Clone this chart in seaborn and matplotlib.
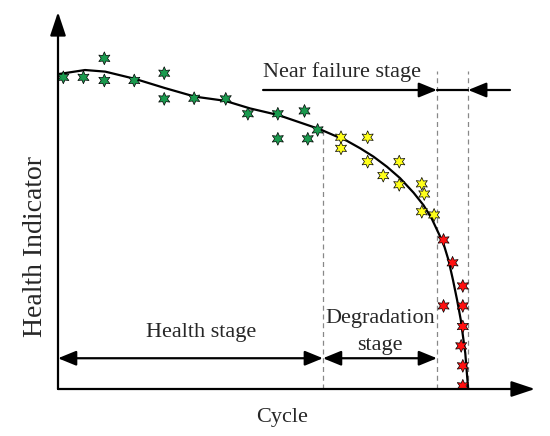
import numpy as np
import pandas as pd
import matplotlib.pyplot as plt
import seaborn as sns

# fitted health indicator curve
curve_cycle = [0, 6.6, 11.5, 18.8, 26.1, 33.4, 40.7, 46.8, 53.7, 63.9, 67.1, 70.4,
               73.7, 76.9, 80.2, 83.4, 86.7, 89.1, 91.1, 92.8, 94.0, 95.2, 96.3,
               97.3, 98.2, 99.3, 100]
curve_hi = [99.3, 100.6, 100.1, 97.8, 94.9, 92.2, 90.9, 88.5, 86.4, 81.9, 80.1, 78.3,
            75.9, 73.3, 70.1, 66.5, 61.9, 58.0, 53.8, 49.1, 45.8, 40.7, 34.4,
            28.1, 21.8, 11.3, 0]

# measured points per stage
health_cycle = [1.3, 6.2, 11.3, 11.3, 18.6, 25.9, 25.9, 33.2, 40.9, 46.3, 53.6, 53.6,
                60.1, 60.9, 63.3]
health_hi = [98.3, 98.3, 104.3, 97.3, 97.3, 99.6, 91.5, 91.7, 91.5, 86.8, 86.8, 78.9,
             87.7, 78.9, 81.7]

degr_cycle = [69.0, 69.0, 75.5, 75.5, 83.2, 79.3, 83.2, 88.7, 89.3, 88.7, 91.7]
degr_hi = [79.4, 75.9, 79.4, 71.7, 71.7, 67.3, 64.4, 64.7, 61.5, 55.9, 54.9]

fail_cycle = [94.0, 96.2, 98.7, 94.0, 98.7, 98.7, 98.3, 98.7, 98.7]
fail_hi = [47.0, 39.8, 32.5, 26.2, 26.2, 19.7, 13.6, 7.3, 1.0]

# stage boundaries
health_end = 64.6
degr_end = 92.4
fail_end = 100

stage_colors = {"health": "#1a9a4e", "degradation": "#ffff1a", "failure": "#ff1010"}

points = pd.DataFrame({
    "cycle": health_cycle + degr_cycle + fail_cycle,
    "hi": health_hi + degr_hi + fail_hi,
    "stage": ["health"] * len(health_cycle) + ["degradation"] * len(degr_cycle)
             + ["failure"] * len(fail_cycle),
})
curve = pd.DataFrame({"cycle": curve_cycle, "hi": curve_hi})

sns.set_style("white")
plt.rcParams["font.family"] = ["Liberation Serif", "DejaVu Serif"]

fig = plt.figure(figsize=(5.5, 4.36), dpi=100)
ax = fig.add_axes([58 / 550, 47 / 436, 477 / 550, 377 / 436])

ax.vlines([health_end], 0, 81.7, colors="#888888", linestyles=(0, (4, 3)), lw=0.9)
ax.vlines([degr_end, fail_end], 0, 100.2, colors="#888888", linestyles=(0, (4, 3)), lw=0.9)

sns.lineplot(data=curve, x="cycle", y="hi", color="black", lw=1.6, ax=ax, zorder=2)
sns.scatterplot(data=points, x="cycle", y="hi", hue="stage", palette=stage_colors,
                marker=(6, 1, 0), s=85, edgecolor="black", linewidth=0.5,
                legend=False, ax=ax, zorder=3)

ax.set_xlim(0, 116.3)
ax.set_ylim(0, 118.9)
ax.set_xticks([])
ax.set_yticks([])
for s in ax.spines.values():
    s.set_visible(False)

# axes with arrow heads
axis_arrow = dict(arrowstyle="-|>,head_length=1.2,head_width=0.4", mutation_scale=12,
                  lw=1.6, color="black", shrinkA=0, shrinkB=0)
ax.annotate("", xy=(1, 0), xytext=(0, 0), xycoords="axes fraction", arrowprops=axis_arrow)
ax.annotate("", xy=(0, 1), xytext=(0, 0), xycoords="axes fraction", arrowprops=axis_arrow)

# stage arrows
dbl = dict(arrowstyle="<|-|>,head_length=1.1,head_width=0.45", mutation_scale=10,
           lw=1.6, color="black", shrinkA=0, shrinkB=0)
ax.annotate("", xy=(0, 9.7), xytext=(health_end, 9.7), arrowprops=dbl)
ax.annotate("", xy=(health_end, 9.7), xytext=(degr_end, 9.7), arrowprops=dbl)

sgl = dict(arrowstyle="-|>,head_length=1.1,head_width=0.45", mutation_scale=10,
           lw=1.6, color="black", shrinkA=0, shrinkB=0)
ax.annotate("", xy=(degr_end, 94.3), xytext=(50, 94.3), arrowprops=sgl)
ax.annotate("", xy=(fail_end, 94.3), xytext=(110.2, 94.3), arrowprops=sgl)
ax.plot([degr_end, fail_end], [94.3, 94.3], color="black", lw=1.6)

ax.text(50, 98.4, "Near failure stage", fontsize=16, ha="left", va="baseline")
ax.text(35.0, 16.5, "Health stage", fontsize=16, ha="center", va="baseline")
ax.text(78.5, 20.7, "Degradation", fontsize=16, ha="center", va="baseline")
ax.text(78.5, 12.3, "stage", fontsize=16, ha="center", va="baseline")

ax.set_xlabel("Cycle", fontsize=16, va="baseline")
ax.xaxis.set_label_coords(0.47, -0.087)
ax.set_ylabel("Health Indicator", fontsize=20, va="center")
ax.yaxis.set_label_coords(-0.048, 0.377)

fig.savefig("out.png", dpi=100)
